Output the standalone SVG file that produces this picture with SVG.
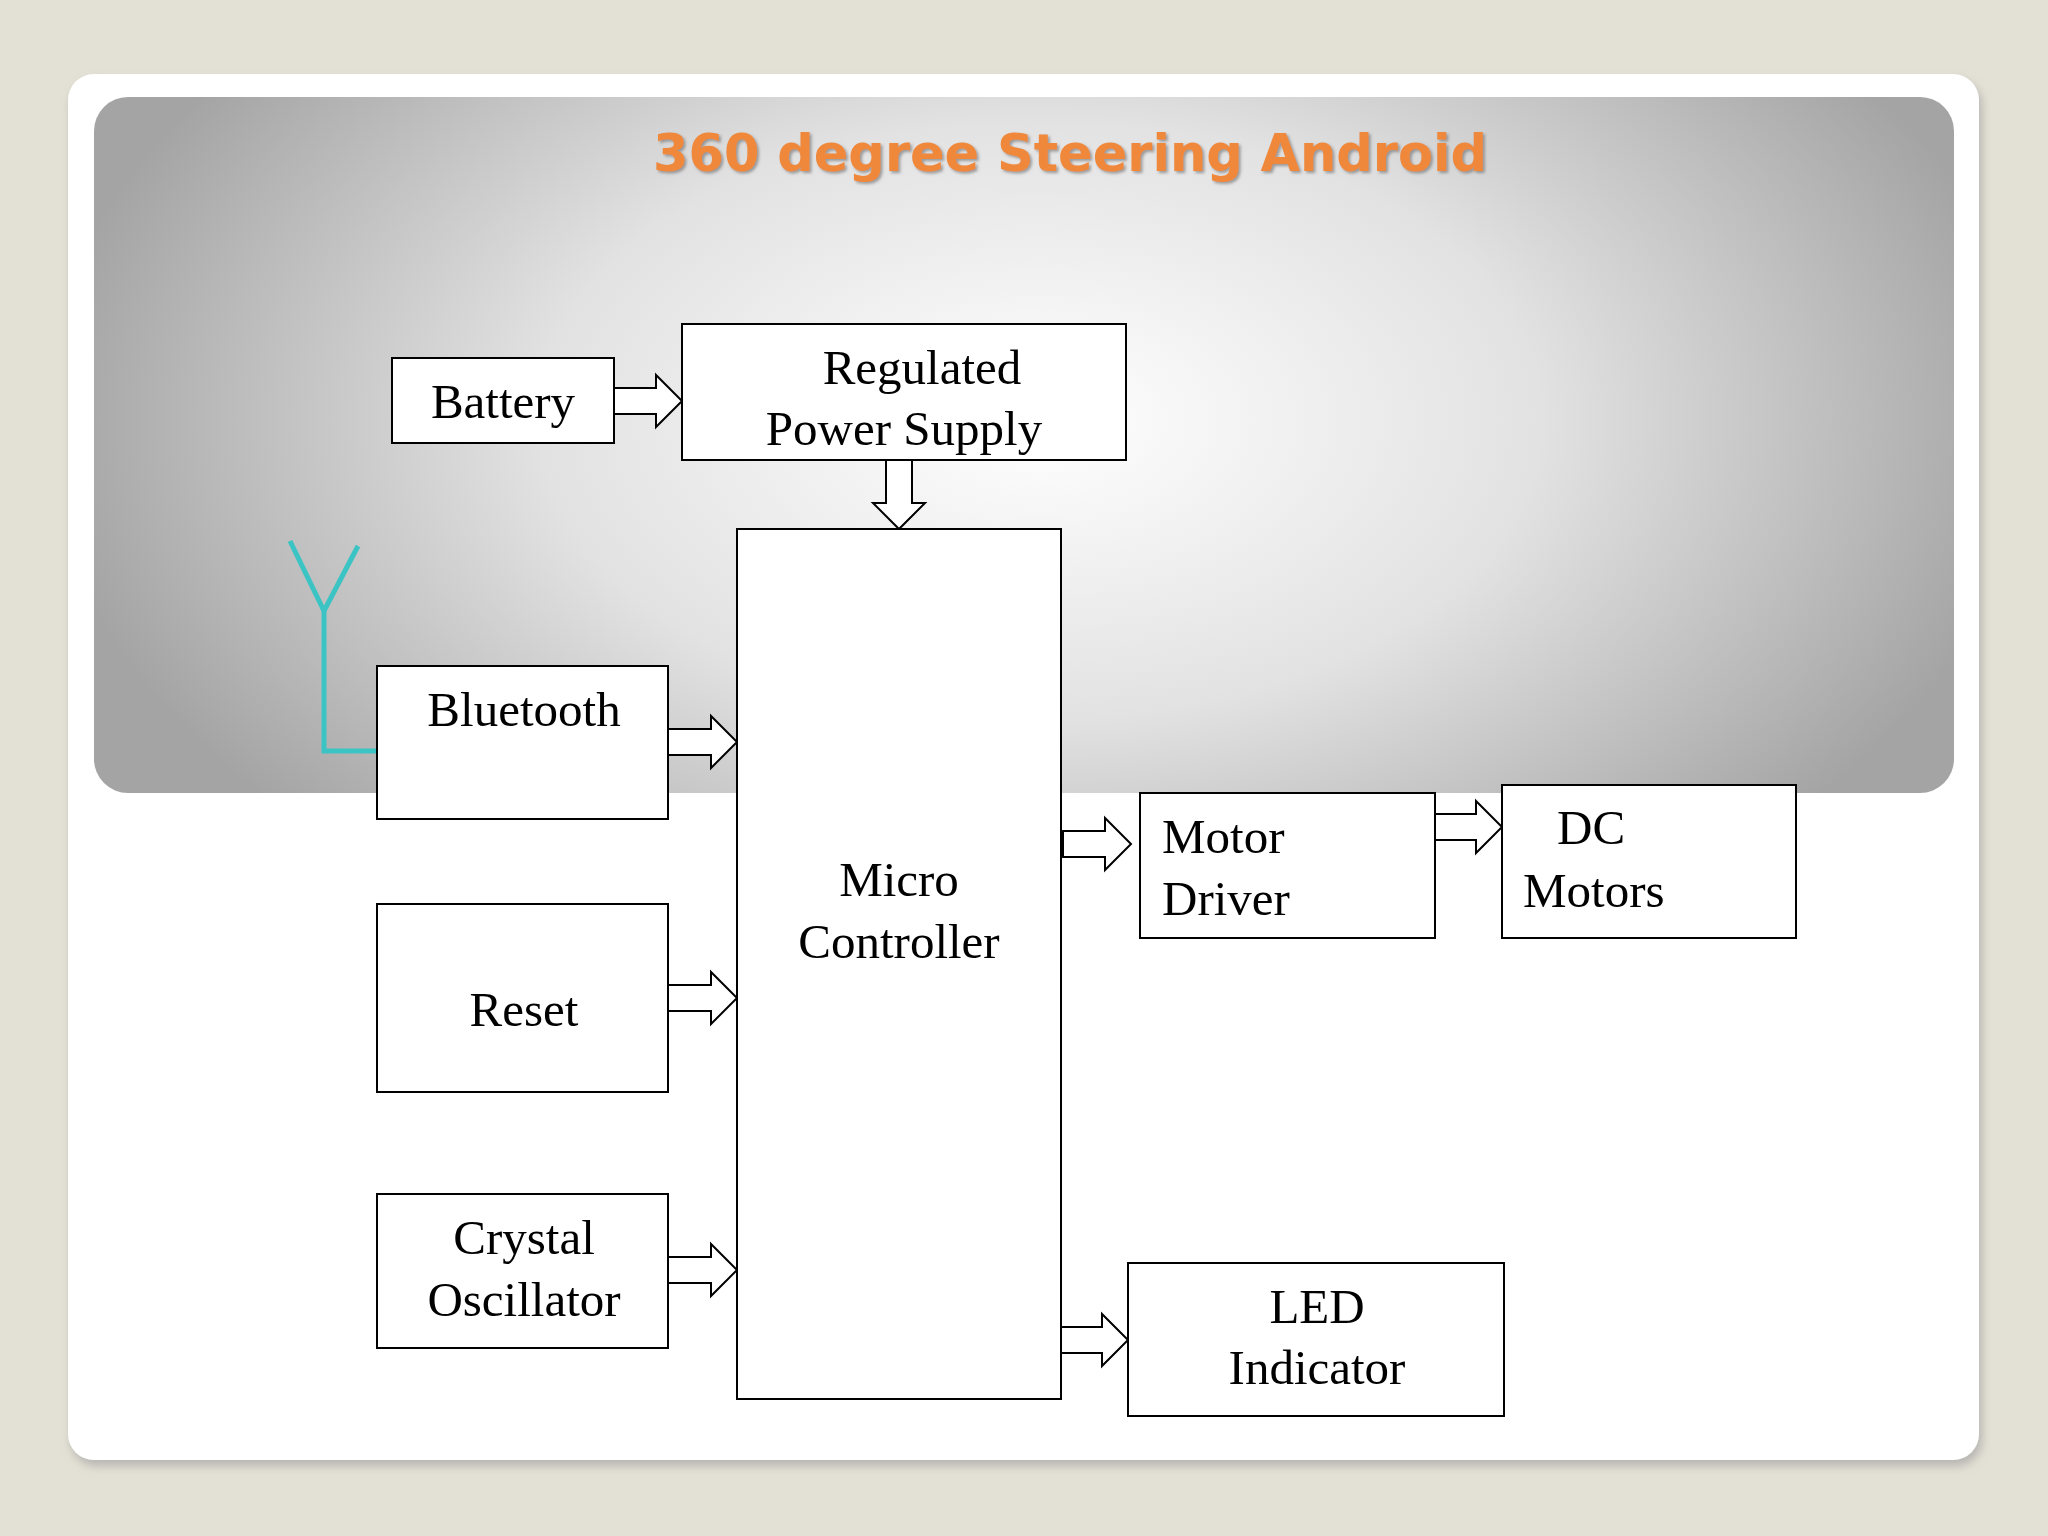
<svg xmlns="http://www.w3.org/2000/svg" width="2048" height="1536" viewBox="0 0 2048 1536">
<defs>
<radialGradient id="g" cx="1040" cy="420" r="1000" gradientUnits="userSpaceOnUse" gradientTransform="translate(1040 420) scale(1 0.6) translate(-1040 -420)">
<stop offset="0" stop-color="#ffffff"/><stop offset="0.5" stop-color="#e2e2e2"/><stop offset="1" stop-color="#a4a4a4"/>
</radialGradient>
<filter id="sh" x="-5%" y="-5%" width="110%" height="110%"><feDropShadow dx="3" dy="6" stdDeviation="5" flood-color="#999" flood-opacity="0.6"/></filter>
<filter id="ts"><feDropShadow dx="2" dy="2" stdDeviation="1.5" flood-color="#666" flood-opacity="0.6"/></filter>
</defs>
<style>
.b{fill:#fff;stroke:#000;stroke-width:2}
.a{fill:#fff;stroke:#000;stroke-width:2}
.t{font-family:"Liberation Serif",serif;font-size:49px;fill:#000}
.c{text-anchor:middle}
</style>
<rect width="2048" height="1536" fill="#e3e0d5"/>
<rect x="68" y="74" width="1911" height="1386" rx="26" fill="#fff" filter="url(#sh)"/>
<rect x="94" y="97" width="1860" height="696" rx="34" fill="url(#g)"/>
<text x="1070" y="171" text-anchor="middle" font-family="DejaVu Sans, sans-serif" font-weight="bold" font-size="51" fill="#f0883a" filter="url(#ts)">360 degree Steering Android</text>
<g id="antenna" fill="none" stroke="#3cc4c4" stroke-width="5"><polyline points="290,541 324,611 358,546"/><polyline points="324,611 324,751 377,751"/></g>
<g id="connectors">
<path class="a" d="M614,388 H656 V375 L682,401 L656,427 V414 H614 Z"/>
<path class="a" d="M886,460 V503 H873 L899,529 L925,503 H912 V460 Z"/>
<path class="a" d="M668,729 H711 V716 L737,742 L711,768 V755 H668 Z"/>
<path class="a" d="M668,985 H711 V972 L737,998 L711,1024 V1011 H668 Z"/>
<path class="a" d="M668,1257 H711 V1244 L737,1270 L711,1296 V1283 H668 Z"/>
<path class="a" d="M1063,831 H1105 V818 L1131,844 L1105,870 V857 H1063 Z"/>
<path class="a" d="M1435,814 H1476 V801 L1502,827 L1476,853 V840 H1435 Z"/>
<path class="a" d="M1061,1327 H1102 V1314 L1128,1340 L1102,1366 V1353 H1061 Z"/>
</g>
<g id="battery"><rect class="b" x="392" y="358" width="222" height="85"/><text class="t c" x="503" y="418">Battery</text></g>
<g id="rps"><rect class="b" x="682" y="324" width="444" height="136"/><text class="t c" x="922" y="384">Regulated</text><text class="t c" x="904" y="445">Power Supply</text></g>
<g id="mc"><rect class="b" x="737" y="529" width="324" height="870"/><text class="t c" x="899" y="896">Micro</text><text class="t c" x="899" y="958">Controller</text></g>
<g id="bluetooth"><rect class="b" x="377" y="666" width="291" height="153"/><text class="t c" x="524" y="726">Bluetooth</text></g>
<g id="reset"><rect class="b" x="377" y="904" width="291" height="188"/><text class="t c" x="524" y="1026">Reset</text></g>
<g id="crystal"><rect class="b" x="377" y="1194" width="291" height="154"/><text class="t c" x="524" y="1254">Crystal</text><text class="t c" x="524" y="1316">Oscillator</text></g>
<g id="motordriver"><rect class="b" x="1140" y="793" width="295" height="145"/><text class="t" x="1162" y="853">Motor</text><text class="t" x="1162" y="915">Driver</text></g>
<g id="dcmotors"><rect class="b" x="1502" y="785" width="294" height="153"/><text class="t" x="1557" y="844">DC</text><text class="t" x="1523" y="907">Motors</text></g>
<g id="led"><rect class="b" x="1128" y="1263" width="376" height="153"/><text class="t c" x="1317" y="1323">LED</text><text class="t c" x="1317" y="1384">Indicator</text></g>
</svg>
